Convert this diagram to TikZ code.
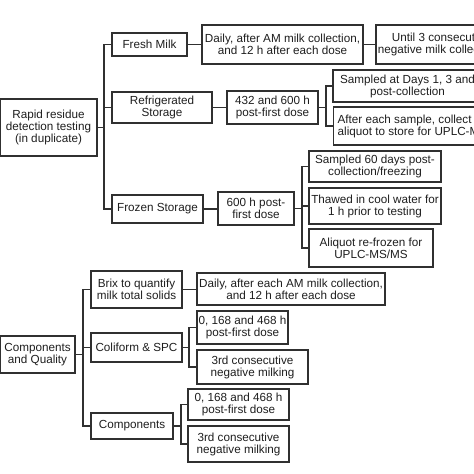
\documentclass[tikz,border=0pt]{standalone}
\usepackage{fontspec}
\setmainfont{Liberation Sans}
\definecolor{ln}{HTML}{303030}
\definecolor{tx}{HTML}{1E1E1E}
\begin{document}
\begin{tikzpicture}[x=1pt,y=-1pt,
  box/.style={draw=ln, line width=1.3pt, rectangle, inner sep=0pt, align=center,
    text=tx, font=\fontsize{11.7}{12}\selectfont},
  conn/.style={draw=ln, line width=1.3pt}]
\useasboundingbox (0,0) rectangle (474,474);
\clip (0,0) rectangle (474,474);
\newcommand{\bx}[6]{\node[box, minimum width=#4, minimum height=#5] (#1) at (#2,#3) {#6};}
% upper tree
\bx{A}{48.5}{127.5}{97}{57}{Rapid residue\\detection testing\\(in duplicate)}
\bx{B}{149.5}{44.5}{75}{23}{Fresh Milk}
\bx{C}{162}{107.5}{100}{31}{Refrigerated\\Storage}
\bx{D}{157.5}{209}{91}{28}{Frozen Storage}
\bx{E}{282.5}{44.5}{161}{39}{Daily, after AM milk collection,\\and 12 h after each dose}
\bx{F}{441}{44.5}{130}{39}{Until 3 consecutive\\negative milk collections}
\bx{G}{272.5}{107.5}{91}{33}{432 and 600 h\\post-first dose}
\bx{H}{407.5}{86}{149}{32}{Sampled at Days 1, 3 and\\post-collection}
\node[box, anchor=west, minimum height=38, align=left, inner xsep=4pt] (I) at (333,126) {After each sample, collect\\aliquot to store for UPLC-MS/MS};
\bx{J}{256}{208.5}{76}{33}{600 h post-\\first dose}
\bx{K}{375}{166.5}{132}{31}{Sampled 60 days post-\\collection/freezing}
\bx{L}{375}{206}{132}{36}{Thawed in cool water for\\1 h prior to testing}
\bx{M}{371}{248}{124}{38}{Aliquot re-frozen for\\UPLC-MS/MS}
% lower tree
\bx{N}{37.5}{354.5}{75}{37}{Components\\and Quality}
\bx{O}{136.5}{289.5}{91}{37}{Brix to quantify\\milk total solids}
\bx{P}{136.5}{347.5}{91}{29}{Coliform \& SPC}
\bx{Q}{132}{426}{82}{26}{Components}
\bx{R}{291}{289}{188}{32}{Daily, after each AM milk collection,\\and 12 h after each dose}
\bx{S}{242.5}{327.5}{91}{33}{0, 168 and 468 h\\post-first dose}
\bx{T}{252.5}{367}{111}{34}{3rd consecutive\\negative milking}
\bx{U}{238.5}{404.5}{101}{31}{0, 168 and 468 h\\post-first dose}
\bx{V}{238.5}{444}{101}{36}{3rd consecutive\\negative milking}
% connectors
\coordinate (ja) at (104,127.5);
\draw[conn] (A.east) -- (ja);
\draw[conn] (ja) |- (B.west);
\draw[conn] (ja) |- (C.west);
\draw[conn] (ja) |- (D.west);
\draw[conn] (B.east) -- (B.east -| E.west);
\draw[conn] (E.east) -- (F.west);
\draw[conn] (C.east) -- (C.east -| G.west);
\coordinate (jg) at (326,107.5);
\draw[conn] (G.east) -- (jg);
\draw[conn] (jg) |- (H.west);
\draw[conn] (jg) |- (I.west);
\draw[conn] (D.east) -- (D.east -| J.west);
\coordinate (jj) at (302,208.5);
\draw[conn] (J.east) -- (jj);
\draw[conn] (jj) |- (K.west);
\draw[conn] (jj) |- (L.west);
\draw[conn] (jj) |- (M.west);
\coordinate (jn) at (83,354.5);
\draw[conn] (N.east) -- (jn);
\draw[conn] (jn) |- (O.west);
\draw[conn] (jn) |- (P.west);
\draw[conn] (jn) |- (Q.west);
\draw[conn] (O.east) -- (O.east -| R.west);
\coordinate (jp) at (189,347.5);
\draw[conn] (P.east) -- (jp);
\draw[conn] (jp) |- (S.west);
\draw[conn] (jp) |- (T.west);
\coordinate (jq) at (181,426);
\draw[conn] (Q.east) -- (jq);
\draw[conn] (jq) |- (U.west);
\draw[conn] (jq) |- (V.west);
\end{tikzpicture}
\end{document}
